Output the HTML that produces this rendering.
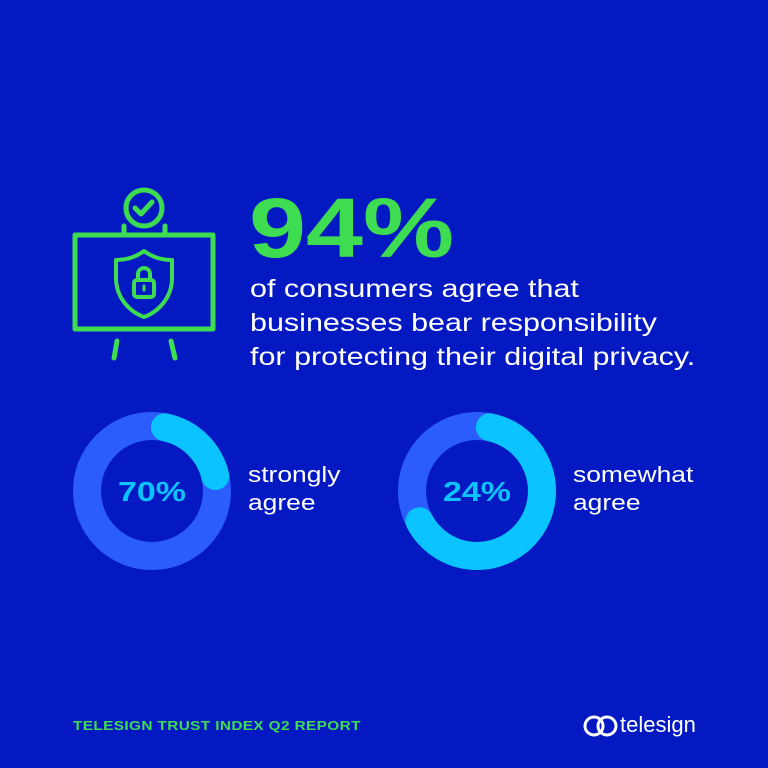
<!DOCTYPE html>
<html><head><meta charset="utf-8"><style>
body{margin:0;width:768px;height:768px;background:#0519c2;overflow:hidden;font-family:"Liberation Sans",sans-serif;position:relative}
.t{position:absolute;color:#fff;white-space:nowrap;transform-origin:0 0}
</style></head><body>
<svg width="768" height="768" style="position:absolute;left:0;top:0">
<g fill="none" stroke="#3ddc51" stroke-width="5" stroke-linecap="round" stroke-linejoin="round">
<circle cx="144" cy="208" r="18"/>
<path d="M135 208 l6 6 l11 -12"/>
<line x1="124" y1="226" x2="124" y2="234"/><line x1="165" y1="226" x2="165" y2="234"/>
<rect x="75" y="235" width="138" height="94"/>
<line x1="117" y1="341" x2="114" y2="358"/><line x1="171" y1="341" x2="175" y2="358"/>
<path d="M144 251 c8 6 18 9 28 9 v18 c0 20 -14 34 -28 39 c-14 -5 -28 -19 -28 -39 v-18 c10 0 20 -3 28 -9z" stroke-width="4"/>
<rect x="134" y="280" width="20" height="17" rx="3" stroke-width="4"/>
<path d="M138 280 v-6 a6 6 0 0 1 12 0 v6" stroke-width="4"/>
<line x1="144" y1="286" x2="144" y2="290" stroke-width="3"/>
</g>
<g id="donuts"></g>
<g fill="none" stroke="#fff" stroke-width="3">
<circle cx="594" cy="726" r="9"/><circle cx="607" cy="726" r="9"/>
</g>
</svg>
<div class="t" style="left:249px;top:180px;font-size:84px;font-weight:bold;color:#3ddc51;transform:scaleX(1.22)">94%</div>
<div class="t" style="left:250px;top:272px;font-size:25px;line-height:34px;transform:scaleX(1.22)">of consumers agree that<br>businesses bear responsibility<br>for protecting their digital privacy.</div>
<div class="t" style="left:248px;top:461px;font-size:22px;line-height:28px;transform:scaleX(1.2)">strongly<br>agree</div>
<div class="t" style="left:573px;top:461px;font-size:22px;line-height:28px;transform:scaleX(1.2)">somewhat<br>agree</div>
<div class="t" style="left:73px;top:719px;font-size:12.5px;font-weight:bold;color:#3ddc51;letter-spacing:0.3px;transform:scaleX(1.23)">TELESIGN TRUST INDEX Q2 REPORT</div>
<div class="t" style="left:620px;top:712px;font-size:22px">telesign</div>
<script>
const labels=["70%","24%"];
const arcValues=[24,70];
const centersX=[152,477];
const g=document.getElementById('donuts');
const NS="http://www.w3.org/2000/svg";
const cy=491,r=65,sw=28;
for(let i=0;i<labels.length;i++){
 const cx=centersX[i];
 const ring=document.createElementNS(NS,'circle');
 
 
 ring.setAttribute('cx',cx);ring.setAttribute('cy',cy);ring.setAttribute('r',r);
 ring.setAttribute('fill','none');ring.setAttribute('stroke','#2b5dfd');ring.setAttribute('stroke-width',sw);
 g.appendChild(ring);
 const frac=arcValues[i]/100;
 const a0=-Math.PI/2+0.2, a1=-Math.PI/2+frac*2*Math.PI-0.17;
 const x0=cx+r*Math.cos(a0),y0=cy+r*Math.sin(a0),x1=cx+r*Math.cos(a1),y1=cy+r*Math.sin(a1);
 const arc=document.createElementNS(NS,'path');
 
 
 arc.setAttribute('d',`M${x0} ${y0} A${r} ${r} 0 ${(a1-a0)>Math.PI?1:0} 1 ${x1} ${y1}`);
 arc.setAttribute('fill','none');arc.setAttribute('stroke','#0ac3ff');arc.setAttribute('stroke-width',sw);arc.setAttribute('stroke-linecap','round');
 g.appendChild(arc);
 const tx=document.createElementNS(NS,'text');
 
 
 tx.setAttribute('x',cx);tx.setAttribute('y',cy+10);tx.setAttribute('text-anchor','middle');
 tx.setAttribute('fill','#0ac3ff');tx.setAttribute('font-size','28');tx.setAttribute('font-weight','bold');
 tx.setAttribute('font-family','Liberation Sans, sans-serif');
 tx.setAttribute('textLength','68');tx.setAttribute('lengthAdjust','spacingAndGlyphs');
 tx.textContent=labels[i];
 g.appendChild(tx);
}
</script>
</body></html>
